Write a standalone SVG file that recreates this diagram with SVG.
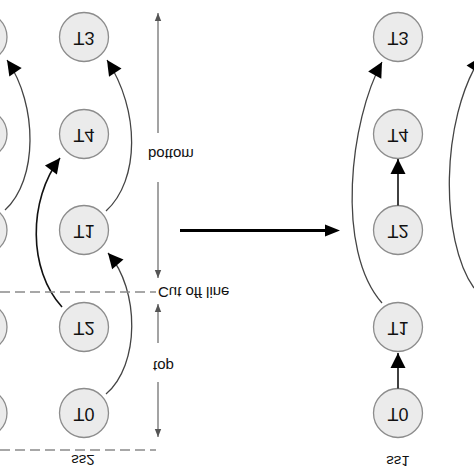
<svg xmlns="http://www.w3.org/2000/svg" width="474" height="474" viewBox="0 0 474 474">
  <style>
    .node circle { fill: #ebebeb; stroke: #8c8c8c; stroke-width: 1.3; }
    .lbl { font-family: "Liberation Sans", Arial, sans-serif; font-size: 18px; fill: #111; text-anchor: middle; }
    .txt { font-family: "Liberation Sans", Arial, sans-serif; font-size: 15px; fill: #111; }
    .arc { fill: none; stroke: #444; stroke-width: 1.3; marker-end: url(#ah); }
    .arcdark { fill: none; stroke: #111; stroke-width: 1.6; marker-end: url(#ah); }
    .dash { stroke: #8a8a8a; stroke-width: 1.6; stroke-dasharray: 10 5; fill: none; }
    .dim { stroke: #666; stroke-width: 1.2; fill: none; marker-end: url(#sm); }
  </style>
  <defs>
    <marker id="ah" markerUnits="userSpaceOnUse" markerWidth="16" markerHeight="16" refX="15" refY="7.5" orient="auto" overflow="visible">
      <path d="M0,0 L15,7.5 L0,15 z" fill="#000"/>
    </marker>
    <marker id="sm" markerUnits="userSpaceOnUse" markerWidth="8" markerHeight="7" refX="8" refY="3.2" orient="auto" overflow="visible">
      <path d="M0,0 L8,3.2 L0,6.4 z" fill="#555"/>
    </marker>
  </defs>

  <!-- left (partial) column -->
  <g id="L_a" class="node"><circle cx="-17.5" cy="37" r="24.5"/></g>
  <g id="L_b" class="node"><circle cx="-17.5" cy="134" r="24.5"/></g>
  <g id="L_c" class="node"><circle cx="-17.5" cy="230" r="24.5"/></g>
  <g id="L_d" class="node"><circle cx="-17.5" cy="327" r="24.5"/></g>
  <g id="L_e" class="node"><circle cx="-17.5" cy="413" r="24.5"/></g>

  <!-- ss2 column -->
  <g id="ss2_T3" class="node"><circle cx="84" cy="37" r="24.5"/><text class="lbl" transform="matrix(1 0 0 -1 84 32)">T3</text></g>
  <g id="ss2_T4" class="node"><circle cx="84" cy="134" r="24.5"/><text class="lbl" transform="matrix(1 0 0 -1 84 129)">T4</text></g>
  <g id="ss2_T1" class="node"><circle cx="84" cy="230" r="24.5"/><text class="lbl" transform="matrix(1 0 0 -1 84 225)">T1</text></g>
  <g id="ss2_T2" class="node"><circle cx="84" cy="327" r="24.5"/><text class="lbl" transform="matrix(1 0 0 -1 84 322)">T2</text></g>
  <g id="ss2_T0" class="node"><circle cx="84" cy="413" r="24.5"/><text class="lbl" transform="matrix(1 0 0 -1 84 408)">T0</text></g>

  <!-- ss1 column -->
  <g id="ss1_T3" class="node"><circle cx="398" cy="37" r="24.5"/><text class="lbl" transform="matrix(1 0 0 -1 398 32)">T3</text></g>
  <g id="ss1_T4" class="node"><circle cx="398" cy="134" r="24.5"/><text class="lbl" transform="matrix(1 0 0 -1 398 129)">T4</text></g>
  <g id="ss1_T2" class="node"><circle cx="398" cy="230" r="24.5"/><text class="lbl" transform="matrix(1 0 0 -1 398 225)">T2</text></g>
  <g id="ss1_T1" class="node"><circle cx="398" cy="327" r="24.5"/><text class="lbl" transform="matrix(1 0 0 -1 398 322)">T1</text></g>
  <g id="ss1_T0" class="node"><circle cx="398" cy="413" r="24.5"/><text class="lbl" transform="matrix(1 0 0 -1 398 408)">T0</text></g>

  <g id="connectors">
    <path class="arc" d="M5,210 C38,180 38,105 7,60"/>
    <path class="arc" d="M106,211 C140,180 140,110 107,60"/>
    <path class="arc" d="M106,394 C140,365 140,290 108,253"/>
    <path class="arcdark" d="M62,307 C28,270 28,200 60,158"/>
    <path class="arc" d="M382,303 C335,250 350,120 382,62"/>
    <path class="arc" d="M474,288 C440,240 440,120 481,57"/>
    <path class="arcdark" d="M398,388.5 L398,353"/>
    <path class="arcdark" d="M398,205.5 L398,159"/>
    <line x1="180" y1="230.5" x2="326" y2="230.5" stroke="#000" stroke-width="3"/>
    <polygon points="340,230.5 325,224.5 325,236.5" fill="#000"/>
  </g>

  <g id="annotations">
    <line class="dash" x1="0" y1="292" x2="156" y2="292"/>
    <line class="dash" x1="0" y1="450" x2="156" y2="450"/>
    <path class="dim" d="M158,133 L158,13"/>
    <path class="dim" d="M158,182 L158,278"/>
    <path class="dim" d="M158,343 L158,304"/>
    <path class="dim" d="M158,382 L158,437"/>
    <text class="txt" transform="matrix(1 0 0 -1 148 148.5)">bottom</text>
    <text class="txt" transform="matrix(1 0 0 -1 158 287)">Cut off line</text>
    <text class="txt" transform="matrix(1 0 0 -1 153 361)">top</text>
    <text class="txt" text-anchor="middle" transform="matrix(1 0 0 -1 83 455)">ss2</text>
    <text class="txt" text-anchor="middle" transform="matrix(1 0 0 -1 398 456)">ss1</text>
  </g>
</svg>
